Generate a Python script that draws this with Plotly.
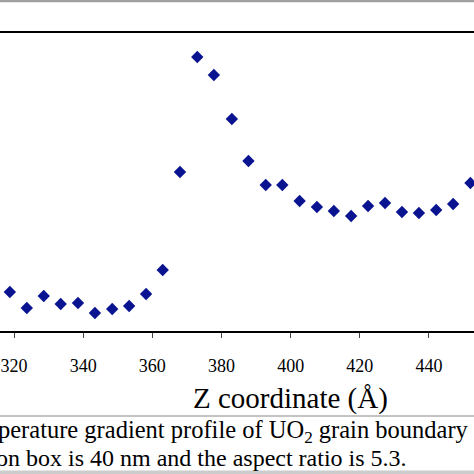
import plotly.graph_objects as go

# Data
z_coord = [318.8, 323.7, 328.6, 333.5, 338.5, 343.4, 348.4, 353.3, 358.2, 363.0,
           368.0, 373.0, 377.8, 383.0, 387.8, 392.8, 397.6, 402.6, 407.6, 412.5,
           417.5, 422.4, 427.3, 432.2, 437.1, 442.1, 447.0, 452.0]
temperature = [1241, 1225, 1237, 1229, 1230, 1220, 1224, 1227, 1239, 1263,
               1361, 1476, 1458, 1414, 1372, 1348, 1348, 1332, 1326, 1322,
               1317, 1327, 1330, 1321, 1320, 1323, 1329, 1350]
x_ticks = [320, 340, 360, 380, 400, 420, 440]

W, H = 474, 474
TOP, BOT = 33, 331
PH = BOT - TOP


def py(pix):
    """convert a pixel row to paper y"""
    return (BOT - pix) / PH


SERIF = "Liberation Serif"

fig = go.Figure()
fig.add_trace(go.Scatter(
    x=z_coord, y=temperature, mode="markers",
    marker=dict(symbol="diamond", size=9.5, color="#0a1490",
                line=dict(width=0)),
    showlegend=False,
))

fig.update_layout(
    width=W, height=H,
    font=dict(family=SERIF),
    margin=dict(l=0, r=0, t=TOP, b=H - BOT, pad=0),
    paper_bgcolor="white", plot_bgcolor="white",
    xaxis=dict(range=[315.95, 453.03], tickvals=x_ticks,
               ticktext=[str(v) for v in x_ticks],
               showgrid=False, zeroline=False,
               showline=True, linecolor="black", linewidth=2, mirror=True,
               ticks="outside", ticklen=5, tickwidth=1, tickcolor="#444",
               ticklabelstandoff=12,
               tickfont=dict(family=SERIF, size=18, color="black")),
    yaxis=dict(range=[1202, 1500], visible=False, showgrid=False, zeroline=False),
    shapes=[
        dict(type="line", xref="paper", yref="paper", x0=0, x1=1,
             y0=py(1), y1=py(1), line=dict(color="#a0a0a0", width=2.5)),
        dict(type="line", xref="paper", yref="paper", x0=0, x1=1,
             y0=py(416), y1=py(416), line=dict(color="#888888", width=1)),
        dict(type="rect", xref="paper", yref="paper", x0=0, x1=1,
             y0=py(470.5), y1=py(476), fillcolor="#cccccc", line=dict(width=0)),
    ],
    annotations=[
        dict(text="Z coordinate (Å)", xref="paper", yref="paper",
             x=290.5 / W, y=py(398), xanchor="center", yanchor="middle",
             showarrow=False, font=dict(family=SERIF, size=29, color="black")),
        dict(text="perature gradient profile of UO<sub>2</sub> grain boundary",
             xref="paper", yref="paper", x=471 / W, y=py(431),
             xanchor="right", yanchor="middle", showarrow=False,
             font=dict(family=SERIF, size=24.5, color="black")),
        dict(text="on box is 40 nm and the aspect ratio is 5.3.",
             xref="paper", yref="paper", x=408.5 / W, y=py(458),
             xanchor="right", yanchor="middle", showarrow=False,
             font=dict(family=SERIF, size=24, color="black")),
    ],
)

fig.write_html("out.html")
